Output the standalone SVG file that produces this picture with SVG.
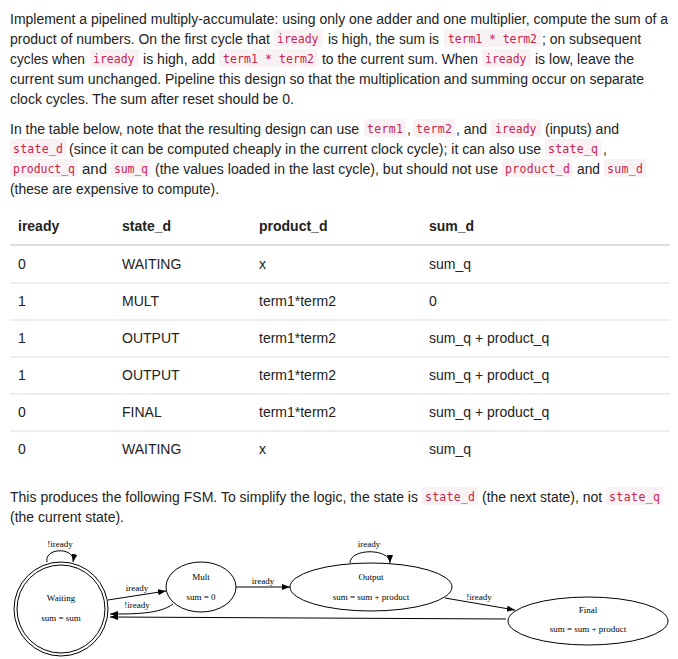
<svg xmlns="http://www.w3.org/2000/svg" width="678" height="659" viewBox="0 0 678 659">
<style>
.t{font-family:"Liberation Sans",Arial,sans-serif;font-size:14px;fill:#222}
.b{font-weight:bold}
.c{font-family:"DejaVu Sans Mono","Liberation Mono",monospace;font-size:11.5px;fill:#c7254e}
.cb{fill:#f9f2f4}
.g{font-family:"Liberation Serif","Times New Roman",serif;font-size:9px;fill:#000;text-anchor:middle}
.n{fill:none;stroke:#000;stroke-width:1}
.e{fill:none;stroke:#000;stroke-width:1}
.hl{stroke:#ddd;stroke-width:2}
.rl{stroke:#ddd;stroke-width:1}
</style>
<defs>
<marker id="ah" markerWidth="8" markerHeight="6" refX="8" refY="3" orient="auto" markerUnits="userSpaceOnUse">
<path d="M0,0 L8,3 L0,6 Z" fill="#000"/>
</marker>
</defs>
<rect width="678" height="659" fill="#fff"/>
<g id="prose">
<rect class="cb" x="273" y="29" width="50" height="18" rx="3"/>
<rect class="cb" x="444" y="29" width="97" height="18" rx="3"/>
<rect class="cb" x="90" y="49" width="49" height="18" rx="3"/>
<rect class="cb" x="219" y="49" width="99" height="18" rx="3"/>
<rect class="cb" x="482" y="49" width="49" height="18" rx="3"/>
<rect class="cb" x="364" y="119" width="42" height="18" rx="3"/>
<rect class="cb" x="413" y="119" width="42" height="18" rx="3"/>
<rect class="cb" x="491" y="119" width="50" height="18" rx="3"/>
<rect class="cb" x="10" y="139" width="56" height="18" rx="3"/>
<rect class="cb" x="545" y="139" width="56" height="18" rx="3"/>
<rect class="cb" x="10" y="159" width="68" height="18" rx="3"/>
<rect class="cb" x="111" y="159" width="40" height="18" rx="3"/>
<rect class="cb" x="502" y="159" width="71" height="18" rx="3"/>
<rect class="cb" x="604" y="159" width="42" height="18" rx="3"/>
<rect class="cb" x="422" y="487" width="56" height="18" rx="3"/>
<rect class="cb" x="606" y="487" width="57" height="18" rx="3"/>

<text class="t" x="10" y="24" textLength="658" lengthAdjust="spacingAndGlyphs">Implement a pipelined multiply-accumulate: using only one adder and one multiplier, compute the sum of a</text>

<text class="t" x="10" y="44" textLength="260" lengthAdjust="spacingAndGlyphs">product of numbers. On the first cycle that</text>
<text class="c" x="277" y="43">iready</text>
<text class="t" x="328" y="44" textLength="111" lengthAdjust="spacingAndGlyphs">is high, the sum is</text>
<text class="c" x="448" y="43" textLength="89">term1 * term2</text>
<text class="t" x="542" y="44" textLength="99" lengthAdjust="spacingAndGlyphs">; on subsequent</text>

<text class="t" x="10" y="64" textLength="75" lengthAdjust="spacingAndGlyphs">cycles when</text>
<text class="c" x="93" y="63">iready</text>
<text class="t" x="143" y="64" textLength="72" lengthAdjust="spacingAndGlyphs">is high, add</text>
<text class="c" x="223" y="63" textLength="91">term1 * term2</text>
<text class="t" x="322" y="64" textLength="156" lengthAdjust="spacingAndGlyphs">to the current sum. When</text>
<text class="c" x="485" y="63">iready</text>
<text class="t" x="535" y="64" textLength="99" lengthAdjust="spacingAndGlyphs">is low, leave the</text>

<text class="t" x="10" y="84" textLength="634" lengthAdjust="spacingAndGlyphs">current sum unchanged. Pipeline this design so that the multiplication and summing occur on separate</text>
<text class="t" x="10" y="104" textLength="284" lengthAdjust="spacingAndGlyphs">clock cycles. The sum after reset should be 0.</text>

<text class="t" x="10" y="134" textLength="349" lengthAdjust="spacingAndGlyphs">In the table below, note that the resulting design can use</text>
<text class="c" x="367" y="133" textLength="36">term1</text>
<text class="t" x="407" y="134">,</text>
<text class="c" x="416" y="133" textLength="36">term2</text>
<text class="t" x="456" y="134" textLength="31" lengthAdjust="spacingAndGlyphs">, and</text>
<text class="c" x="495" y="133">iready</text>
<text class="t" x="545" y="134" textLength="74" lengthAdjust="spacingAndGlyphs">(inputs) and</text>

<text class="c" x="13" y="153" textLength="50">state_d</text>
<text class="t" x="69" y="154" textLength="472" lengthAdjust="spacingAndGlyphs">(since it can be computed cheaply in the current clock cycle); it can also use</text>
<text class="c" x="548" y="153" textLength="50">state_q</text>
<text class="t" x="603" y="154">,</text>

<text class="c" x="13" y="173" textLength="62">product_q</text>
<text class="t" x="82" y="174" textLength="25" lengthAdjust="spacingAndGlyphs">and</text>
<text class="c" x="114" y="173" textLength="34">sum_q</text>
<text class="t" x="155" y="174" textLength="343" lengthAdjust="spacingAndGlyphs">(the values loaded in the last cycle), but should not use</text>
<text class="c" x="505" y="173" textLength="65">product_d</text>
<text class="t" x="577" y="174" textLength="23" lengthAdjust="spacingAndGlyphs">and</text>
<text class="c" x="607" y="173" textLength="36">sum_d</text>

<text class="t" x="10" y="194" textLength="209" lengthAdjust="spacingAndGlyphs">(these are expensive to compute).</text>

<text class="t" x="10" y="502" textLength="408" lengthAdjust="spacingAndGlyphs">This produces the following FSM. To simplify the logic, the state is</text>
<text class="c" x="425" y="501" textLength="50">state_d</text>
<text class="t" x="482" y="502" textLength="120" lengthAdjust="spacingAndGlyphs">(the next state), not</text>
<text class="c" x="609" y="501" textLength="51">state_q</text>
<text class="t" x="10" y="522" textLength="114" lengthAdjust="spacingAndGlyphs">(the current state).</text>
</g>
<g id="table">
<line class="hl" x1="10" y1="245" x2="670" y2="245"/>
<line class="rl" x1="10" y1="283" x2="670" y2="283"/>
<line class="rl" x1="10" y1="320" x2="670" y2="320"/>
<line class="rl" x1="10" y1="357" x2="670" y2="357"/>
<line class="rl" x1="10" y1="394" x2="670" y2="394"/>
<line class="rl" x1="10" y1="431" x2="670" y2="431"/>
<text class="t b" x="18" y="231">iready</text>
<text class="t b" x="122" y="231">state_d</text>
<text class="t b" x="259" y="231">product_d</text>
<text class="t b" x="429" y="231">sum_d</text>
<g class="t">
<text x="18" y="269">0</text><text x="122" y="269">WAITING</text><text x="259" y="269">x</text><text x="429" y="269">sum_q</text>
<text x="18" y="306">1</text><text x="122" y="306">MULT</text><text x="259" y="306">term1*term2</text><text x="429" y="306">0</text>
<text x="18" y="343">1</text><text x="122" y="343">OUTPUT</text><text x="259" y="343">term1*term2</text><text x="429" y="343">sum_q + product_q</text>
<text x="18" y="380">1</text><text x="122" y="380">OUTPUT</text><text x="259" y="380">term1*term2</text><text x="429" y="380">sum_q + product_q</text>
<text x="18" y="417">0</text><text x="122" y="417">FINAL</text><text x="259" y="417">term1*term2</text><text x="429" y="417">sum_q + product_q</text>
<text x="18" y="454">0</text><text x="122" y="454">WAITING</text><text x="259" y="454">x</text><text x="429" y="454">sum_q</text>
</g>
</g>
<g id="connectors">
<path class="e" d="M47,562 C44,547 76,547 73,562" marker-end="url(#ah)"/>
<text class="g" x="60" y="547">!iready</text>
<path class="e" d="M108,600 L166,591" marker-end="url(#ah)"/>
<text class="g" x="137" y="591">iready</text>
<path class="e" d="M173,604 C160,614 135,614 110,614" marker-end="url(#ah)"/>
<text class="g" x="137" y="608">!iready</text>
<path class="e" d="M236,587 L290,587" marker-end="url(#ah)"/>
<text class="g" x="263" y="584">iready</text>
<path class="e" d="M350,563 C350,548 390,548 390,563" marker-end="url(#ah)"/>
<text class="g" x="369" y="547">iready</text>
<path class="e" d="M445,598 L515,610" marker-end="url(#ah)"/>
<text class="g" x="479" y="600">!iready</text>
<path class="e" d="M506,619 L110,617" marker-end="url(#ah)"/>
</g>
<g id="waiting">
<circle class="n" cx="61" cy="609" r="47"/>
<circle class="n" cx="61" cy="609" r="44"/>
<text class="g" x="61" y="601">Waiting</text>
<text class="g" x="61" y="621">sum = sum</text>
</g>
<g id="mult">
<ellipse class="n" cx="201" cy="587" rx="35" ry="25"/>
<text class="g" x="201" y="580">Mult</text>
<text class="g" x="201" y="600">sum = 0</text>
</g>
<g id="output">
<ellipse class="n" cx="371" cy="587" rx="81" ry="24"/>
<text class="g" x="371" y="580">Output</text>
<text class="g" x="371" y="600">sum = sum + product</text>
</g>
<g id="final">
<ellipse class="n" cx="588" cy="621" rx="80" ry="24"/>
<text class="g" x="588" y="613">Final</text>
<text class="g" x="588" y="632">sum = sum + product</text>
</g>
</svg>
